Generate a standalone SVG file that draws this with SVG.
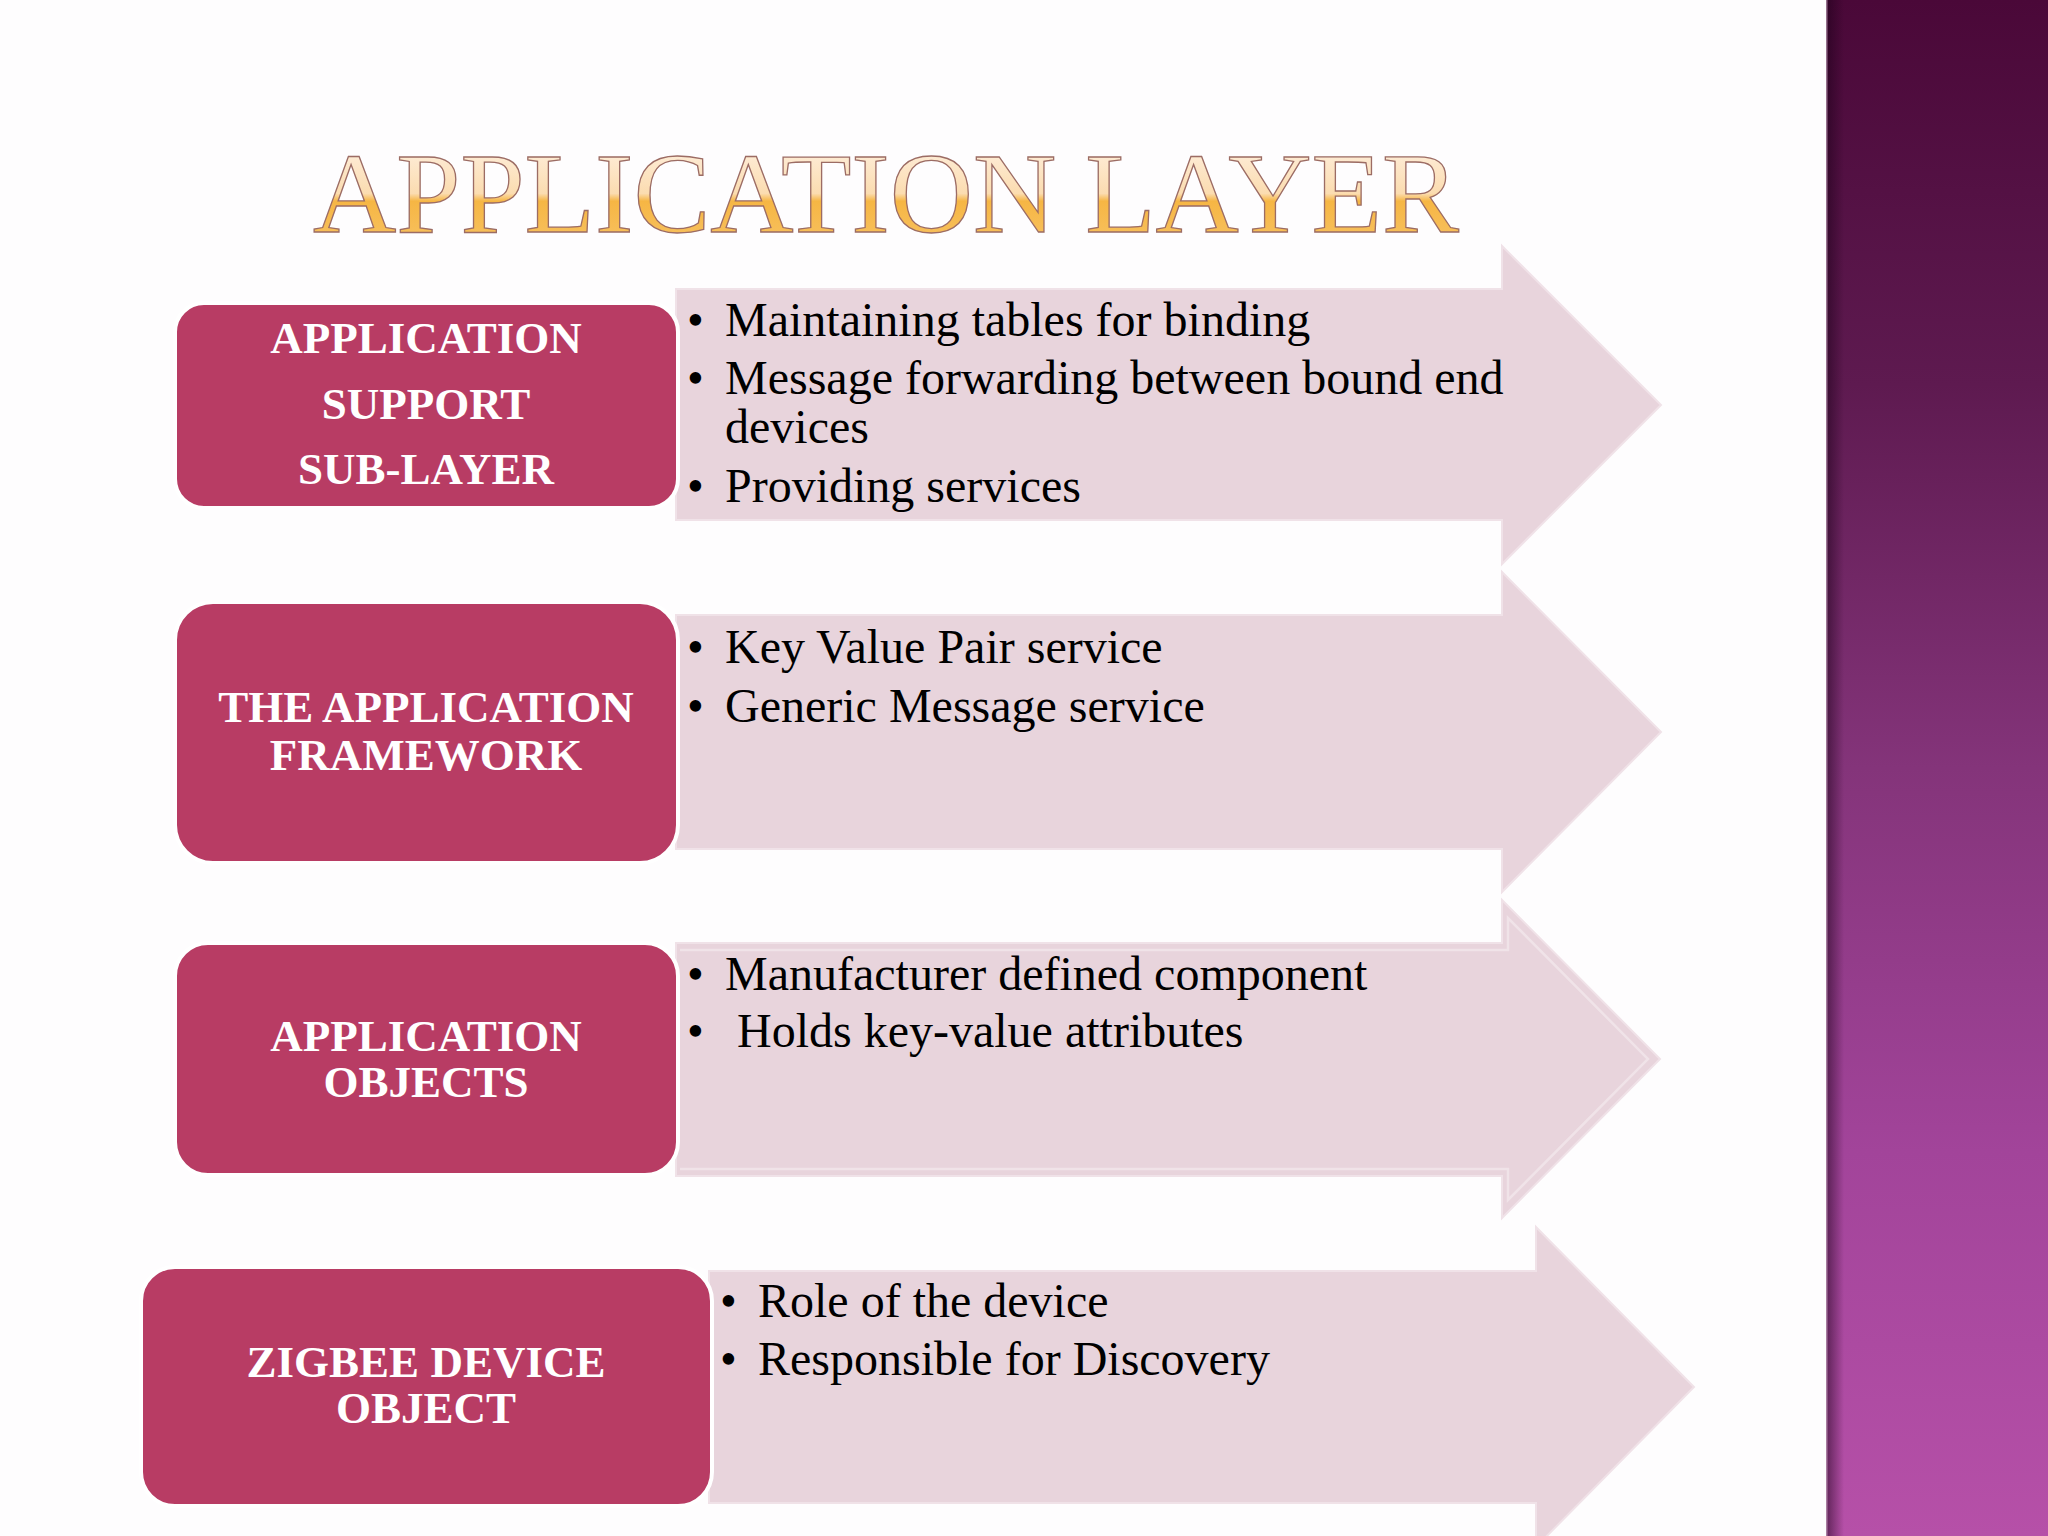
<svg xmlns="http://www.w3.org/2000/svg" width="2048" height="1536" viewBox="0 0 2048 1536">
  <defs>
    <linearGradient id="barGrad" x1="0" y1="0" x2="0" y2="1">
      <stop offset="0" stop-color="#4a0838"/>
      <stop offset="0.25" stop-color="#5e1a50"/>
      <stop offset="0.5" stop-color="#84347a"/>
      <stop offset="0.75" stop-color="#a2449a"/>
      <stop offset="1" stop-color="#b650a8"/>
    </linearGradient>
    <linearGradient id="barEdge" x1="0" y1="0" x2="1" y2="0">
      <stop offset="0" stop-color="#1a0018" stop-opacity="0.55"/>
      <stop offset="1" stop-color="#1a0018" stop-opacity="0"/>
    </linearGradient>
    <linearGradient id="titleGrad" x1="0" y1="0" x2="0" y2="1">
      <stop offset="0" stop-color="#fff4ea"/>
      <stop offset="0.5" stop-color="#fbdcb0"/>
      <stop offset="0.56" stop-color="#f6b644"/>
      <stop offset="0.8" stop-color="#f7be58"/>
      <stop offset="1" stop-color="#fbd7a0"/>
    </linearGradient>
    <style>
      .title { font-family: "Liberation Serif", "Times New Roman", serif; font-size: 115px; fill: url(#titleGrad); stroke: #9c6c64; stroke-width: 1.3; }
      .box { fill: #b83c64; stroke: #ffffff; stroke-width: 4; }
      .arrow { fill: #e8d4dc; stroke: #f0e2e8; stroke-width: 2; }
      .bevel { fill: none; stroke: #ffffff; stroke-opacity: 0.35; stroke-width: 2.5; }
      .label { font-family: "Liberation Serif", "Times New Roman", serif; font-size: 45px; font-weight: bold; fill: #ffffff; text-anchor: middle; }
      .item { font-family: "Liberation Serif", "Times New Roman", serif; font-size: 48px; fill: #000000; }
    </style>
  </defs>

  <rect x="0" y="0" width="2048" height="1536" fill="#fefdfe"/>

  <g id="side-bar">
    <rect x="1826" y="0" width="222" height="1536" fill="url(#barGrad)"/>
    <rect x="1826" y="0" width="18" height="1536" fill="url(#barEdge)"/>
    <rect x="1826" y="0" width="1.5" height="1536" fill="#d8b8d0" opacity="0.6"/>
  </g>

  <g id="title">
    <text class="title" x="313" y="232" textLength="1146" lengthAdjust="spacingAndGlyphs">APPLICATION LAYER</text>
  </g>

  <g id="connectors"></g>

  <g id="row1">
    <polygon class="arrow" points="676,289 1502,289 1502,246 1661,405 1502,564 1502,520 676,520"/>
    <rect class="box" x="175" y="303" width="503" height="205" rx="29" ry="29"/>
    <text class="label" x="426" y="353">APPLICATION</text>
    <text class="label" x="426" y="419">SUPPORT</text>
    <text class="label" x="426" y="484">SUB-LAYER</text>
    <text class="item" x="687" y="336">•</text>
    <text class="item" x="725" y="336">Maintaining tables for binding</text>
    <text class="item" x="687" y="394">•</text>
    <text class="item" x="725" y="394">Message forwarding between bound end</text>
    <text class="item" x="725" y="443">devices</text>
    <text class="item" x="687" y="502">•</text>
    <text class="item" x="725" y="502">Providing services</text>
  </g>

  <g id="row2">
    <polygon class="arrow" points="676,615 1502,615 1502,572 1661,732 1502,892 1502,849 676,849"/>
    <rect class="box" x="175" y="602" width="503" height="261" rx="38" ry="38"/>
    <text class="label" x="426" y="722">THE APPLICATION</text>
    <text class="label" x="426" y="770">FRAMEWORK</text>
    <text class="item" x="687" y="663">•</text>
    <text class="item" x="725" y="663">Key Value Pair service</text>
    <text class="item" x="687" y="722">•</text>
    <text class="item" x="725" y="722">Generic Message service</text>
  </g>

  <g id="row3">
    <polygon class="arrow" points="676,943 1502,943 1502,900 1660,1059 1502,1218 1502,1176 676,1176"/>
    <polyline class="bevel" points="680,950 1508,950 1508,918 1648,1059 1508,1200 1508,1169 680,1169"/>
    <rect class="box" x="175" y="943" width="503" height="232" rx="33" ry="33"/>
    <text class="label" x="426" y="1051">APPLICATION</text>
    <text class="label" x="426" y="1097">OBJECTS</text>
    <text class="item" x="687" y="990">•</text>
    <text class="item" x="725" y="990">Manufacturer defined component</text>
    <text class="item" x="687" y="1047">•</text>
    <text class="item" x="737" y="1047">Holds key-value attributes</text>
  </g>

  <g id="row4">
    <polygon class="arrow" points="709,1271 1536,1271 1536,1227 1694,1387 1536,1547 1536,1503 709,1503"/>
    <rect class="box" x="141" y="1267" width="571" height="239" rx="34" ry="34"/>
    <text class="label" x="426" y="1377">ZIGBEE DEVICE</text>
    <text class="label" x="426" y="1423">OBJECT</text>
    <text class="item" x="720" y="1317">•</text>
    <text class="item" x="758" y="1317">Role of the device</text>
    <text class="item" x="720" y="1375">•</text>
    <text class="item" x="758" y="1375">Responsible for Discovery</text>
  </g>
</svg>
